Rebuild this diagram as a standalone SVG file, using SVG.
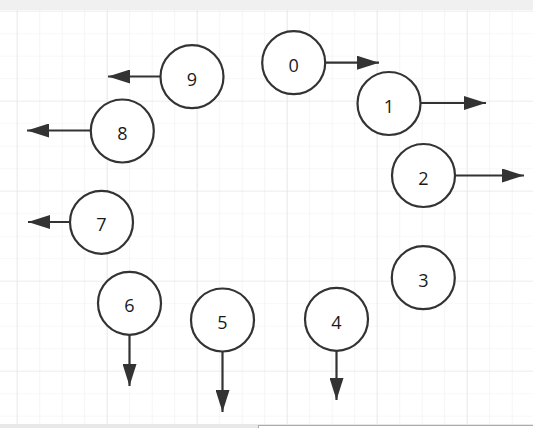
<svg xmlns="http://www.w3.org/2000/svg" width="533" height="428" viewBox="0 0 533 428">
<defs>
<pattern id="g" x="16.7" y="10.7" width="22.5" height="22.5" patternUnits="userSpaceOnUse">
<path d="M0 0V22.5M0 0H22.5" stroke="#efefef" stroke-width="1.2" fill="none"/>
</pattern>
<pattern id="G" x="16.7" y="10.7" width="90" height="90" patternUnits="userSpaceOnUse">
<path d="M0 0V90M0 0H90" stroke="#e3e3e3" stroke-width="1.2" fill="none"/>
</pattern>
<marker id="ah" viewBox="0 0 22 14" refX="22" refY="7" markerWidth="22" markerHeight="14" markerUnits="userSpaceOnUse" orient="auto">
<path d="M0 0L22 7L0 14Z" fill="#333"/>
</marker>
</defs>
<style>
.n circle{fill:#fff;stroke:#333;stroke-width:2.2}
.n text{font-family:"Open Sans","Noto Sans",sans-serif;font-size:18px;fill:#1a1a1a;text-anchor:middle;dominant-baseline:central}
#edges line{stroke:#333;stroke-width:2.2;marker-end:url(#ah)}
</style>
<rect width="533" height="428" fill="#fff"/>
<rect x="0" y="0" width="533" height="424" fill="url(#g)"/>
<rect x="0" y="0" width="533" height="424" fill="url(#G)"/>
<rect x="0" y="0" width="533" height="10" fill="#f0f0f0"/>
<rect x="0" y="424" width="533" height="4" fill="#e8e8e8"/>
<rect x="258.5" y="425.5" width="280" height="6" fill="#fff" stroke="#aaa" stroke-width="1"/>
<g id="edges">
<line x1="326" y1="62.7" x2="379" y2="62.7"/>
<line x1="421" y1="103" x2="486" y2="103"/>
<line x1="456" y1="175.5" x2="524" y2="175.5"/>
<line x1="160" y1="76.5" x2="108" y2="76.5"/>
<line x1="90" y1="130.5" x2="27" y2="130.5"/>
<line x1="69" y1="222" x2="28" y2="222"/>
<line x1="129.5" y1="335" x2="129.5" y2="386"/>
<line x1="222.5" y1="352" x2="222.5" y2="412"/>
<line x1="336.5" y1="351" x2="336.5" y2="400"/>
</g>
<g id="n0" class="n"><circle cx="293.7" cy="62.7" r="31.5"/><text x="293.7" y="64.5">0</text></g>
<g id="n1" class="n"><circle cx="389" cy="103.5" r="31.5"/><text x="389" y="105.5">1</text></g>
<g id="n2" class="n"><circle cx="423.5" cy="175.5" r="31.5"/><text x="423.5" y="177.5">2</text></g>
<g id="n3" class="n"><circle cx="423.3" cy="277.7" r="31.5"/><text x="423.3" y="279.5">3</text></g>
<g id="n4" class="n"><circle cx="336.5" cy="319.3" r="31.5"/><text x="336.5" y="321.5">4</text></g>
<g id="n5" class="n"><circle cx="222.5" cy="320" r="31.5"/><text x="222.5" y="322">5</text></g>
<g id="n6" class="n"><circle cx="129.5" cy="303.3" r="31.5"/><text x="129.5" y="305">6</text></g>
<g id="n7" class="n"><circle cx="101.5" cy="222.3" r="31.5"/><text x="101.5" y="224">7</text></g>
<g id="n8" class="n"><circle cx="122.3" cy="131" r="31.5"/><text x="122.3" y="133">8</text></g>
<g id="n9" class="n"><circle cx="192" cy="76.7" r="31.5"/><text x="192" y="78.5">9</text></g>
</svg>
